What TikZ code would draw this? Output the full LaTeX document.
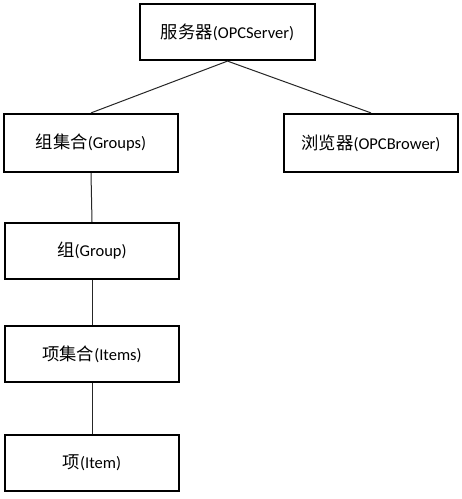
\documentclass[tikz,border=0pt]{standalone}
\usepackage{fontspec}
\setmainfont{Carlito}
\newfontfamily\cjk[Scale=1.05]{Noto Sans CJK SC}
\begin{document}
\begin{tikzpicture}[x=1pt,y=-1pt,
  box/.style={draw=black,line width=2.2pt,fill=white,inner sep=0pt,
    font=\fontsize{16.5}{19}\selectfont},
  link/.style={draw=black!85,line width=1pt}]
\useasboundingbox[fill=white] (0,0) rectangle (462,499);
\node[box,minimum width=175,minimum height=56] (server) at (227.5,32) {{\cjk 服务器}(OPCServer)};
\node[box,minimum width=174,minimum height=58] (groups) at (91,143) {{\cjk 组集合}(Groups)};
\node[box,minimum width=174,minimum height=58] (brower) at (371,143) {{\cjk 浏览器}(OPCBrower)};
\node[box,minimum width=174,minimum height=56] (group) at (92,251) {{\cjk 组}(Group)};
\node[box,minimum width=174,minimum height=56] (items) at (92,354) {{\cjk 项集合}(Items)};
\node[box,minimum width=174,minimum height=56] (item) at (92,463) {{\cjk 项}(Item)};
\draw[link] (server.south) -- (groups.north);
\draw[link] (server.south) -- (brower.north);
\draw[link] (groups.south) -- (group.north);
\draw[link] (group.south) -- (items.north);
\draw[link] (items.south) -- (item.north);
\end{tikzpicture}
\end{document}
